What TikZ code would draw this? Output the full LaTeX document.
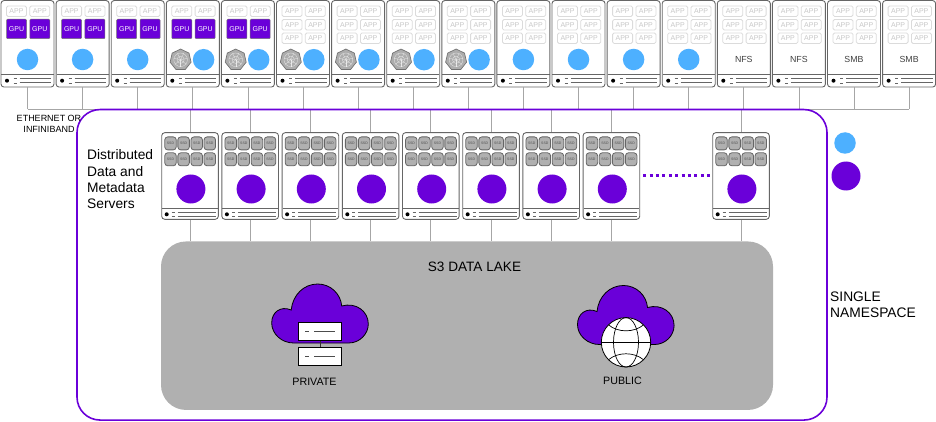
\documentclass[tikz,border=0pt]{standalone}
\usepackage{fontspec}
\setmainfont{Liberation Sans}
\usetikzlibrary{shapes.geometric,calc}

\definecolor{nspurple}{HTML}{6A00D9}
\definecolor{nsblue}{HTML}{4DB0FF}
\definecolor{nsgray}{HTML}{B0B0B0}
\definecolor{nsedge}{HTML}{666666}

\tikzset{
    chassis/.style={draw=nsedge,line width=0.9pt,fill=white,rounded corners=3pt,minimum width=#1,inner sep=0pt},
    chassis/.default={53pt},
    appbox/.style={draw=black!14,line width=0.8pt,rounded corners=1.5pt,minimum width=20pt,minimum height=10.5pt,inner sep=0pt,text=black!22,font=\fontsize{7}{8}\selectfont},
    gpubox/.style={draw=black!55,line width=0.5pt,fill=nspurple,rounded corners=1pt,minimum width=20pt,minimum height=19.5pt,inner sep=0pt,text=white,font=\fontsize{7}{8}\selectfont},
    ssdbox/.style={draw=black!60,line width=0.8pt,fill=nsgray,rounded corners=3pt,minimum width=11.5pt,minimum height=13pt,inner sep=0pt,text=black!70,font=\fontsize{3.5}{4}\selectfont},
    bluedisc/.style={circle,fill=nsblue,minimum size=#1,inner sep=0pt},
    bluedisc/.default={21.5pt},
    purpledisc/.style={circle,fill=nspurple,minimum size=29pt,inner sep=0pt},
    wire/.style={draw=black!35,line width=0.8pt},
    footline/.style={draw=black!60,line width=0.9pt},
    kube/.style={regular polygon,regular polygon sides=7,draw=black!55,line width=0.7pt,fill=black!32,minimum size=21.5pt,inner sep=0pt},
    cloudbox/.style={draw=black,line width=0.9pt,fill=white,minimum width=42.5pt,minimum height=17.5pt,inner sep=0pt},
    nfslabel/.style={text=black!75,font=\fontsize{8.8}{10}\selectfont},
    label/.style={align=left,anchor=west,inner sep=0pt},
    pics/kubeweb/.style={code={
        \foreach \a in {90,141.4,...,400} {\draw[white,opacity=0.7,line width=0.3pt] (0,0) -- ++(\a:7.2);}
        \draw[white,opacity=0.7,line width=0.3pt] (0,0) circle [radius=3.6];
        \draw[white,opacity=0.7,line width=0.3pt] (0,0) circle [radius=6.8];
    }},
    pics/cloudshape/.style={code={
        \draw[black,line width=0.8pt,fill=nspurple] (22,59) .. controls (10,59) and (0,50) .. (0,39)
            .. controls (0,28) and (9,21.5) .. (19.5,26) .. controls (21,11) and (32,0) .. (46,0)
            .. controls (59,0) and (69,10) .. (70,22) .. controls (84,18) and (96.6,27) .. (96.6,40)
            .. controls (96.6,50) and (88,59) .. (77,59) -- cycle;
    }}
}

% strip at the foot of a server: dot, start of dashes, end of long lines, height
\newcommand{\serverfoot}[4]{%
    \fill (#1,#4) circle [radius=2];
    \draw[footline,line width=0.6pt] (#2,#4-2.2) -- ++(3,0) (#2,#4+2.2) -- ++(3,0);
    \draw[footline] (#2+6,#4-2.2) -- (#3,#4-2.2) (#2+6,#4+2.2) -- (#3,#4+2.2);
}

\begin{document}
\begin{tikzpicture}[x=1pt,y=-1pt]
    \useasboundingbox (0,0) rectangle (936,422);
    \coordinate (buslevel) at (0,109.3);

    % Compute servers
    \foreach \i in {1,...,17} {
        \pgfmathsetmacro{\x}{1+(\i-1)*55.1}
        \begin{scope}[shift={(\x,0)}]
            \node[chassis,minimum height=86.5pt] (srv\i) at (26.5,43.8) {};
            \draw[footline] (0.4,74) -- (52.6,74);
            \serverfoot{6}{12.5}{50}{80.7}
            \node[appbox] at (15.5,11.2) {APP};
            \node[appbox] at (38.8,11.2) {APP};
            \ifnum\i<6
                \node[gpubox] at (15.5,29) {GPU};
                \node[gpubox] at (38.8,29) {GPU};
            \else
                \node[appbox] at (15.5,24.8) {APP};
                \node[appbox] at (38.8,24.8) {APP};
                \node[appbox] at (15.5,38.2) {APP};
                \node[appbox] at (38.8,38.2) {APP};
            \fi
            \ifnum\i<4
                \node[bluedisc] at (26.5,59.5) {};
            \else\ifnum\i<10
                \node[kube] at (14.3,59.8) {};
                \pic at (14.3,59.8) {kubeweb};
                \node[bluedisc] at (37.3,59.7) {};
            \else\ifnum\i<14
                \node[bluedisc] at (26.5,59.5) {};
            \fi\fi\fi
        \end{scope}
    }
    \node[nfslabel] at (srv14.center |- 0,59.5) {NFS};
    \node[nfslabel] at (srv15.center |- 0,59.5) {NFS};
    \node[nfslabel] at (srv16.center |- 0,59.5) {SMB};
    \node[nfslabel] at (srv17.center |- 0,59.5) {SMB};

    % Data servers
    \foreach \i in {1,...,9} {
        \pgfmathsetmacro{\x}{\i<9 ? 161.7+(\i-1)*60.2 : 712.7}
        \begin{scope}[shift={(\x,132.7)}]
            \node[chassis=56.6pt,minimum height=86.6pt] (dsrv\i) at (28.3,43.3) {};
            \draw[footline] (0.4,75.3) -- (56.2,75.3);
            \serverfoot{5}{10}{54}{81.6}
            \foreach \c in {0,1,2,3} {
                \node[ssdbox] at (8.8+\c*13.1,10.7) {SSD};
                \node[ssdbox] at (8.8+\c*13.1,26.6) {SSD};
            }
            \node[purpledisc] at (29.2,56.3) {};
        \end{scope}
    }
    \draw[nspurple,line width=3pt,dash pattern=on 3pt off 3.4pt] (dsrv8.east |- 0,175.7) ++(3,0) -- ($(dsrv9.west |- 0,175.7)+(-2,0)$);

    % S3 lake
    \node[fill=nsgray,rounded corners=25pt,minimum width=612pt,minimum height=168.5pt,inner sep=0pt] (lake) at (467,325.7) {};
    \node at (474.5,267) [font=\fontsize{13.6}{15}\selectfont] {S3 DATA LAKE};

    % Wires
    \foreach \i in {1,...,17} {\draw[wire] (srv\i.south) -- (srv\i.south |- buslevel);}
    \draw[wire] (srv1.south |- buslevel) -- (srv17.south |- buslevel);
    \foreach \i in {1,...,9} {
        \draw[wire] (dsrv\i.north) -- (dsrv\i.north |- buslevel);
        \draw[wire] (dsrv\i.south) -- (dsrv\i.south |- lake.north);
    }

    % Namespace border
    \node[draw=nspurple,line width=1.6pt,rounded corners=23pt,minimum width=750pt,minimum height=310.5pt,inner sep=0pt] (namespace) at (452,264.8) {};

    % Private cloud
    \pic at (271.7,284) {cloudshape};
    \node[cloudbox] (privtop) at (320,331.3) {};
    \node[cloudbox] (privlow) at (320,356.3) {};
    \draw[black!80,line width=1pt] (privtop) -- (privlow);
    \foreach \n in {privtop,privlow} {
        \draw[black!70,line width=0.7pt] ($(\n.center)+(-15,0)$) -- ++(4.3,0) ($(\n.center)+(-6,0)$) -- ++(21,0);
    }
    \node at (314.5,382) [font=\fontsize{10.7}{12}\selectfont] {PRIVATE};

    % Public cloud
    \pic at (577.5,285.5) {cloudshape};
    \node[circle,draw=black,line width=0.8pt,fill=white,minimum size=49.4pt,inner sep=0pt] (globe) at (626,342.3) {};
    \draw[black,line width=0.7pt] (globe.west) -- (globe.east);
    \draw[black,line width=0.7pt] (globe.center) ellipse [x radius=12.5,y radius=24.7];
    \draw[black,line width=0.7pt] ($(globe.center)+(-17.5,-17.4)$) .. controls ($(globe.center)+(-8,-9.5)$) and ($(globe.center)+(8,-9.5)$) .. ($(globe.center)+(17.5,-17.4)$);
    \draw[black,line width=0.7pt] ($(globe.center)+(-17.5,17.4)$) .. controls ($(globe.center)+(-8,9.5)$) and ($(globe.center)+(8,9.5)$) .. ($(globe.center)+(17.5,17.4)$);
    \node at (622.5,381) [font=\fontsize{10.7}{12}\selectfont] {PUBLIC};

    % Legend and labels
    \node[bluedisc] at (845,143) {};
    \node[purpledisc] at (846,176) {};
    \node[label,font=\fontsize{13.8}{16.3}\selectfont] at (87,179.5) {Distributed\\Data and\\Metadata\\Servers};
    \node[label,font=\fontsize{13.8}{15.5}\selectfont] at (830,304.5) {SINGLE\\NAMESPACE};
    \node[align=center,inner sep=0pt,font=\fontsize{9}{11.5}\selectfont] at (49,124) {ETHERNET OR\\INFINIBAND};
\end{tikzpicture}
\end{document}
